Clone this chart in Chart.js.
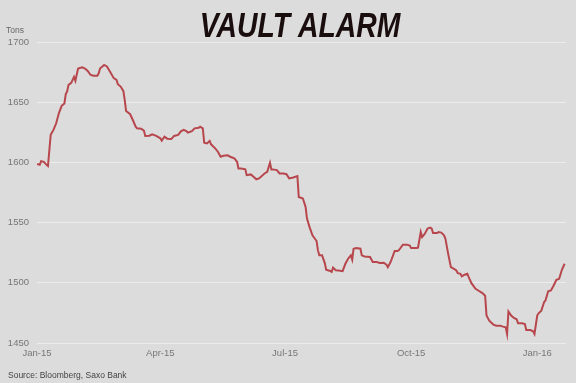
<!DOCTYPE html>
<html>
<head>
<meta charset="utf-8">
<script src="https://cdn.jsdelivr.net/npm/chart.js@4"></script>
<style>
  html, body { margin: 0; padding: 0; background: #dcdcdc; }
  #wrap { width: 576px; height: 383px; position: relative; }
</style>
</head>
<body>
<div id="wrap"><canvas id="goldChart" width="576" height="383"></canvas></div>
<script>
// days since 1 Jan 2015
var days = [0, 2, 3, 5, 7, 8, 10, 12, 14, 16, 18, 20, 21, 22, 23, 25, 26, 27, 28, 29, 30, 33, 35, 37, 39, 41, 44, 45, 46, 49, 51, 53, 56, 58, 59, 61, 63, 64, 65, 68, 70, 72, 73,
  76, 78, 79, 82, 84, 87, 90, 91, 93, 95, 98, 100, 103, 105, 107, 109, 110, 113, 115, 118, 119, 121, 122, 124, 126, 127, 130, 132, 134, 136, 139, 141, 144, 146, 147,
  149, 152, 153, 156, 158, 160, 162, 164, 166, 168, 170, 171, 172, 175, 177, 180, 182, 184, 187, 190, 191, 194, 196, 197, 199, 201, 204, 205, 206, 208, 210, 211, 214, 215, 216, 218,
  220, 223, 225, 227, 229, 230, 231, 233, 236, 237, 239, 243, 245, 248, 250, 253, 255, 256, 258, 261, 263, 264, 267, 270, 272, 273, 277, 278, 280, 281, 283, 285, 287, 288, 289, 292, 293,
  295, 297, 298, 300, 302, 304, 306, 307, 309, 310, 312, 314, 315, 317, 320, 322, 325, 327, 328, 330, 333, 335, 338, 340, 342, 343, 344, 346, 348, 350, 351, 354, 356, 357, 360, 362, 363,
  365, 366, 368, 370, 371, 373, 375, 377, 379, 381, 383, 385];

var tons = [1598.6, 1598, 1601, 1600.5, 1598, 1597, 1623, 1627, 1632.5, 1641, 1647, 1649, 1656.7, 1659, 1664.4, 1666, 1668.6, 1671, 1667.8, 1673, 1678, 1679, 1678, 1676, 1672.8, 1672, 1672, 1674, 1678, 1681, 1679.7, 1676, 1670, 1668.6, 1665, 1663, 1659.4, 1652, 1642.7, 1640, 1635, 1629.7, 1628.3,
  1628, 1626.4, 1622, 1622.2, 1623.3, 1622, 1620, 1618, 1621.3, 1619.7, 1619.4, 1622, 1622.8, 1625.8, 1627, 1626, 1624.7, 1626, 1628.3, 1628.8, 1629.7, 1628.3, 1616.3, 1615.8, 1617.8, 1615, 1611.7, 1608.9, 1604.7, 1605.5, 1606, 1604.7, 1603.3, 1600.5, 1595,
  1595, 1594.2, 1589.4, 1590, 1588, 1586, 1586.7, 1588.6, 1590.8, 1592.2, 1599.7, 1594.2, 1594.2, 1593.6, 1590.8, 1590.8, 1590.2, 1586.7, 1587.5, 1588.6, 1571.3, 1570, 1563, 1553.3, 1545.8, 1539.4, 1534.7, 1526.9, 1522.8, 1522.8, 1516.4, 1510.9, 1509.8, 1509, 1512.6, 1510.4,
  1510.2, 1509.7, 1515.8, 1520, 1522.8, 1519.2, 1528.3, 1528.8, 1528.3, 1522.8, 1521.9, 1521.4, 1517.2, 1517.2, 1516.4, 1516.7, 1515, 1513, 1517.2, 1526.4, 1526.5, 1527, 1531.7, 1531.7, 1531, 1528.8, 1528.8, 1529.2, 1542.2, 1538, 1540.8, 1545, 1545.8, 1545, 1541.4, 1541.4, 1542.2,
  1541.7, 1539.4, 1536.7, 1524.2, 1513, 1511.7, 1510.2, 1508, 1507.5, 1505.3, 1506.7, 1507.5, 1504.7, 1499.7, 1495, 1493.6, 1491.4, 1489.2, 1472.8, 1468.6, 1465.3, 1464.4, 1464.4, 1463.6, 1463, 1457.5, 1476.1, 1472.8, 1470.8, 1469.7, 1466.4, 1466.4, 1465.8, 1460.8, 1460.8, 1459.7, 1457.5,
  1472.8, 1474.7, 1476.9, 1483.9, 1485.3, 1493, 1493.6, 1497.8, 1502.5, 1503.3, 1510.8, 1515.8];

var tickDays = [0, 90, 181, 273, 365];
var tickLabels = ['Jan-15', 'Apr-15', 'Jul-15', 'Oct-15', 'Jan-16'];

var points = days.map(function (d, i) { return { x: d, y: tons[i] }; });

// title, unit and source note
var extraText = {
  id: 'extraText',
  afterDraw: function (chart) {
    var c = chart.ctx;
    c.save();
    c.fillStyle = '#1a0d0d';
    c.font = 'italic bold 35px "Liberation Sans", Arial';
    c.textAlign = 'center';
    c.textBaseline = 'alphabetic';
    // squeeze the bold face to look condensed
    c.translate(300, 37);
    c.scale(0.81, 1);
    c.fillText('VAULT ALARM', 0, 0);
    c.restore();

    c.save();
    c.fillStyle = '#666';
    c.font = '8.5px "Liberation Sans", Arial';
    c.textAlign = 'left';
    c.textBaseline = 'middle';
    c.fillText('Tons', 6, 31);
    c.fillStyle = '#444';
    c.fillText('Source: Bloomberg, Saxo Bank', 8, 376);
    c.restore();
  }
};

var ctx = document.getElementById('goldChart').getContext('2d');

var goldChart = new Chart(ctx, {
  type: 'line',
  data: {
    datasets: [{
      data: points,
      borderColor: '#b7474d',
      borderWidth: 2,
      pointRadius: 0,
      fill: false,
      tension: 0
    }]
  },
  options: {
    responsive: false,
    animation: false,
    layout: { padding: { top: 42, right: 10, bottom: 0, left: 0 } },
    plugins: {
      legend: { display: false },
      tooltip: { enabled: false }
    },
    scales: {
      x: {
        type: 'linear',
        min: 0,
        max: 386,
        afterFit: function (scale) { scale.height = 40; },
        afterBuildTicks: function (scale) {
          scale.ticks = tickDays.map(function (d) { return { value: d }; });
        },
        grid: { display: false, drawTicks: false },
        border: { display: false },
        ticks: {
          autoSkip: false,
          maxRotation: 0,
          padding: 5,
          color: '#777',
          font: { family: '"Liberation Sans", Arial', size: 9.5 },
          callback: function (value) {
            var i = tickDays.indexOf(value);
            return i >= 0 ? tickLabels[i] : '';
          }
        }
      },
      y: {
        min: 1450,
        max: 1700,
        afterFit: function (scale) { scale.width = 37; },
        grid: { color: '#ececec', lineWidth: 1, drawTicks: false },
        border: { display: false },
        ticks: {
          stepSize: 50,
          padding: 8,
          color: '#777',
          font: { family: '"Liberation Sans", Arial', size: 9.5 },
          callback: function (value) { return String(value); }
        }
      }
    }
  },
  plugins: [extraText]
});
</script>
</body>
</html>
